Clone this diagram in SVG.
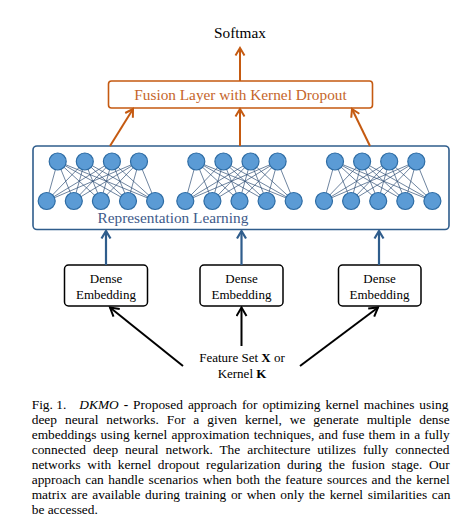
<svg xmlns="http://www.w3.org/2000/svg" xmlns:xlink="http://www.w3.org/1999/xlink" width="458" height="524" viewBox="0 0 458 524">
<style>
.serif{font-family:"Liberation Serif","Times New Roman",serif}
.lbl{font-size:15.3px}
.sm{font-size:13px;fill:#000}
.cap{font-size:13.4px;fill:#000}
.box{fill:#fff;stroke:#000;stroke-width:1.5}
.orange{stroke:#c55a11;stroke-width:2;fill:none}
.blue{stroke:#2f5d8c;stroke-width:2.2;fill:none}
.black{stroke:#000;stroke-width:2;fill:none}
.node{fill:#5b9bd5;stroke:#2e6ca4;stroke-width:1.2}
.wire{stroke:#2f4f75;stroke-width:0.7;fill:none}
</style>
<defs>
<marker id="ah-o" viewBox="-10 -6 12 12" refX="0" refY="0" markerWidth="12" markerHeight="12" markerUnits="userSpaceOnUse" orient="auto"><path d="M-7.5,-4.5 L0,0 L-7.5,4.5" fill="none" stroke="#c55a11" stroke-width="2"/></marker>
<marker id="ah-b" viewBox="-10 -6 12 12" refX="0" refY="0" markerWidth="12" markerHeight="12" markerUnits="userSpaceOnUse" orient="auto"><path d="M-7.5,-4.5 L0,0 L-7.5,4.5" fill="none" stroke="#2f5d8c" stroke-width="2.2"/></marker>
<marker id="ah-k" viewBox="-10 -6 12 12" refX="0" refY="0" markerWidth="12" markerHeight="12" markerUnits="userSpaceOnUse" orient="auto"><path d="M-8.5,-5 L0,0 L-8.5,5" fill="none" stroke="#000" stroke-width="2"/></marker>
<g id="net">
<path class="wire" d="M11 161.5L0 201M11 161.5L27.1 201M11 161.5L54.2 201M11 161.5L81.3 201M11 161.5L108.4 201M38.1 161.5L0 201M38.1 161.5L27.1 201M38.1 161.5L54.2 201M38.1 161.5L81.3 201M38.1 161.5L108.4 201M65.2 161.5L0 201M65.2 161.5L27.1 201M65.2 161.5L54.2 201M65.2 161.5L81.3 201M65.2 161.5L108.4 201M92.3 161.5L0 201M92.3 161.5L27.1 201M92.3 161.5L54.2 201M92.3 161.5L81.3 201M92.3 161.5L108.4 201"/>
<circle class="node" cx="11" cy="161.5" r="8.5"/>
<circle class="node" cx="38.1" cy="161.5" r="8.5"/>
<circle class="node" cx="65.2" cy="161.5" r="8.5"/>
<circle class="node" cx="92.3" cy="161.5" r="8.5"/>
<circle class="node" cx="0" cy="201" r="8.5"/>
<circle class="node" cx="27.1" cy="201" r="8.5"/>
<circle class="node" cx="54.2" cy="201" r="8.5"/>
<circle class="node" cx="81.3" cy="201" r="8.5"/>
<circle class="node" cx="108.4" cy="201" r="8.5"/>
</g>
</defs>
<rect width="458" height="524" fill="#fff"/>

<g id="softmax">
<text class="serif lbl" x="240" y="38" text-anchor="middle" fill="#000">Softmax</text>
</g>

<g id="fusion">
<rect x="108.5" y="81" width="264" height="27" rx="3" fill="#fff" stroke="#c55a11" stroke-width="1.6"/>
<text class="serif lbl" x="240.5" y="100" text-anchor="middle" fill="#c5652a">Fusion Layer with Kernel Dropout</text>
</g>

<g id="representation">
<rect x="33" y="146" width="416" height="83.5" rx="4" fill="#fff" stroke="#2f5d8c" stroke-width="1.6"/>
<use xlink:href="#net" x="46.7" y="0"/>
<use xlink:href="#net" x="185.3" y="0"/>
<use xlink:href="#net" x="324" y="0"/>
<text class="serif lbl" x="97.5" y="223" fill="#3e5a8a">Representation Learning</text>
</g>

<g id="dense1">
<rect class="box" x="64.5" y="265" width="83" height="41" rx="4"/>
<text class="serif sm" x="106" y="283" text-anchor="middle">Dense</text>
<text class="serif sm" x="106" y="298.5" text-anchor="middle">Embedding</text>
</g>
<g id="dense2">
<rect class="box" x="200" y="265" width="83" height="41" rx="4"/>
<text class="serif sm" x="241.5" y="283" text-anchor="middle">Dense</text>
<text class="serif sm" x="241.5" y="298.5" text-anchor="middle">Embedding</text>
</g>
<g id="dense3">
<rect class="box" x="338.5" y="265" width="82.5" height="41" rx="4"/>
<text class="serif sm" x="379.5" y="283" text-anchor="middle">Dense</text>
<text class="serif sm" x="379.5" y="298.5" text-anchor="middle">Embedding</text>
</g>

<g id="feature">
<text class="serif sm" x="242" y="361.5" text-anchor="middle">Feature Set <tspan font-weight="bold">X</tspan> or</text>
<text class="serif sm" x="242" y="377.5" text-anchor="middle">Kernel <tspan font-weight="bold">K</tspan></text>
</g>

<g id="connectors">
<line class="orange" x1="240" y1="81" x2="240" y2="48" marker-end="url(#ah-o)"/>
<line class="orange" x1="110" y1="146" x2="133" y2="109" marker-end="url(#ah-o)"/>
<line class="orange" x1="240" y1="146" x2="240" y2="109" marker-end="url(#ah-o)"/>
<line class="orange" x1="370" y1="146" x2="352" y2="109" marker-end="url(#ah-o)"/>
<line class="blue" x1="106" y1="265" x2="106" y2="231" marker-end="url(#ah-b)"/>
<line class="blue" x1="241.5" y1="265" x2="241.5" y2="231" marker-end="url(#ah-b)"/>
<line class="blue" x1="379" y1="265" x2="379" y2="231" marker-end="url(#ah-b)"/>
<line class="black" x1="183" y1="366" x2="110" y2="307.5" marker-end="url(#ah-k)"/>
<line class="black" x1="241.5" y1="346" x2="241.5" y2="307.5" marker-end="url(#ah-k)"/>
<line class="black" x1="300" y1="366" x2="378" y2="307.5" marker-end="url(#ah-k)"/>
</g>

<g id="caption" class="serif cap">
<text x="31.7" y="409">Fig. 1.</text>
<text x="79.3" y="409" word-spacing="1.6"><tspan font-style="italic">DKMO</tspan> <tspan font-weight="bold">-</tspan> Proposed approach for optimizing kernel machines using</text>
<text x="31.7" y="424" word-spacing="4.62">deep neural networks. For a given kernel, we generate multiple dense</text>
<text x="31.7" y="439" word-spacing="0.85">embeddings using kernel approximation techniques, and fuse them in a fully</text>
<text x="31.7" y="454" word-spacing="3.59">connected deep neural network. The architecture utilizes fully connected</text>
<text x="31.7" y="469" word-spacing="3.23">networks with kernel dropout regularization during the fusion stage. Our</text>
<text x="31.7" y="484" word-spacing="1.12">approach can handle scenarios when both the feature sources and the kernel</text>
<text x="31.7" y="499" word-spacing="1.25">matrix are available during training or when only the kernel similarities can</text>
<text x="31.7" y="514">be accessed.</text>
</g>
</svg>
